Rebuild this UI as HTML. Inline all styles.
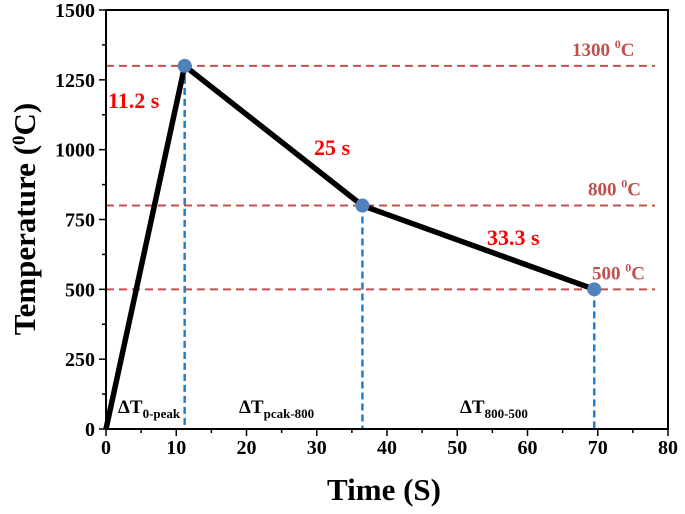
<!DOCTYPE html>
<html><head><meta charset="utf-8"><style>
body{margin:0;background:#fff}
svg text{font-family:"Liberation Serif",serif;font-weight:bold}
</style></head><body>
<svg id="c" width="685" height="509"></svg>
<script>
const xTicks=[0,10,20,30,40,50,60,70,80];
const yTicks=[0,250,500,750,1000,1250,1500];
const times=[0,11.2,36.5,69.5];
const temps=[0,1300,800,500];
const refTemps=[1300,800,500];
const refLabels=["1300","800","500"];
const segLabels=["11.2 s","25 s","33.3 s"];
const NS="http://www.w3.org/2000/svg";
const svg=document.getElementById('c');
const L=106,R=668,T=10,B=429;
const X=v=>L+(v/80)*(R-L);
const Y=v=>B-(v/1500)*(B-T);
function el(t,a,txt){const e=document.createElementNS(NS,t);for(const k in a)e.setAttribute(k,a[k]);if(txt!=null)e.textContent=txt;svg.appendChild(e);return e;}
refTemps.forEach((t,i)=>{
 const l=el('line',{x1:L,x2:655,y1:Y(t),y2:Y(t),stroke:'#c0504d','stroke-width':2,'stroke-dasharray':'8,5'});
 
 
});
const rl=[[572,52],[588,192],[592,275]];
refTemps.forEach((t,i)=>{
 const tx=el('text',{x:rl[i][0],y:Y(t)-10,fill:'#c0504d','font-size':19});
 tx.innerHTML=refLabels[i]+' <tspan dy="-8" font-size="12">0</tspan><tspan dy="8">C</tspan>';
 
 
});
for(let i=1;i<times.length;i++){
 const l=el('line',{x1:X(times[i]),x2:X(times[i]),y1:Y(temps[i]),y2:B,stroke:'#1f7fd0','stroke-width':2.5,'stroke-dasharray':'7,4'});
 
 
}
const pl=el('polyline',{points:times.map((t,i)=>X(t)+','+Y(temps[i])).join(' '),fill:'none',stroke:'#000','stroke-width':5.5,'stroke-linejoin':'round'});


for(let i=1;i<times.length;i++){
 const c=el('circle',{cx:X(times[i]),cy:Y(temps[i]),r:7,fill:'#4f81bd'});
 
 
}
const sp=[[108,108],[314,155],[487,245]];
segLabels.forEach((s,i)=>{
 const t=el('text',{x:sp[i][0],y:sp[i][1],fill:'#ff0000','font-size':22},s);
 
 
});
const dl=[[118,"0-peak"],[239,"pcak-800"],[460,"800-500"]];
dl.forEach((d,i)=>{
 const t=el('text',{x:d[0],y:413,fill:'#000','font-size':19});
 t.innerHTML='ΔT<tspan dy="5" font-size="13">'+d[1]+'</tspan>';
 
 
});
const fr=el('rect',{x:L,y:T,width:R-L,height:B-T,fill:'none',stroke:'#000','stroke-width':2});


xTicks.forEach((v,i)=>{
 el('line',{x1:X(v),x2:X(v),y1:B,y2:B+7,stroke:'#000','stroke-width':1.5});
 if(i<xTicks.length-1)el('line',{x1:X(v+5),x2:X(v+5),y1:B,y2:B+4,stroke:'#000','stroke-width':1.5});
 const t=el('text',{x:X(v),y:B+25,'text-anchor':'middle','font-size':20},v);
 
 
});
yTicks.forEach((v,i)=>{
 el('line',{x1:L-7,x2:L,y1:Y(v),y2:Y(v),stroke:'#000','stroke-width':1.5});
 if(i<yTicks.length-1)el('line',{x1:L-4,x2:L,y1:Y(v+125),y2:Y(v+125),stroke:'#000','stroke-width':1.5});
 const t=el('text',{x:L-11,y:Y(v)+7,'text-anchor':'end','font-size':20},v);
 
 
});
const xt=el('text',{x:384,y:500,'text-anchor':'middle','font-size':31},'Time (S)');


const yt=el('text',{x:0,y:0,'text-anchor':'middle','font-size':31,transform:'translate(35,219) rotate(-90)'});
yt.innerHTML='Temperature (<tspan dy="-10" font-size="19">0</tspan><tspan dy="10">C)</tspan>';


</script>
</body></html>
